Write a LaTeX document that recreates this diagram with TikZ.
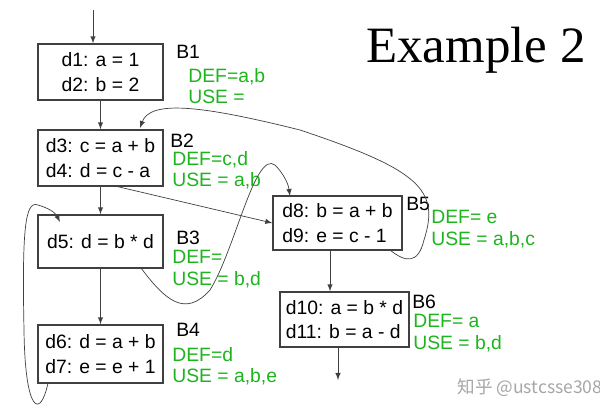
\documentclass[tikz,border=0pt]{standalone}
\usepackage{fontspec}
\setmainfont{Liberation Sans}
\newfontfamily\exfont{Liberation Serif}
\newfontfamily\cjk{Noto Sans CJK SC}
\usepackage{tikz}
\usetikzlibrary{positioning}
\definecolor{defgreen}{RGB}{30,180,30}
\tikzset{
  blk/.style={draw,thick,black!75,text=black,minimum width=2.5cm,minimum height=1.12cm,align=left,font=\fontsize{11}{14}\selectfont},
  lbl/.style={anchor=west,inner sep=0pt,font=\fontsize{11}{14}\selectfont},
  du/.style={anchor=west,inner sep=0pt,text=defgreen,align=left,font=\fontsize{11}{12.2}\selectfont},
  flow/.style={-latex,black!75}
}
\begin{document}
\begin{tikzpicture}[x=0.02cm,y=-0.02cm]
\useasboundingbox (0,0) rectangle (600,414);
%blocks
\node[blk] (b1) at (100.5,72) {d1: a = 1\\d2: b = 2};
\node[blk] (b2) at (100.5,158) {d3: c = a + b\\d4: d = c - a};
\node[blk,minimum height=1.06cm] (b3) at (100.5,241.5) {d5: d = b * d};
\node[blk,minimum height=1.16cm] (b4) at (100.5,354) {d6: d = a + b\\d7: e = e + 1};
\node[blk,minimum width=2.58cm,minimum height=1.08cm] (b5) at (337.5,223) {d8: b = a + b\\d9: e = c - 1};
\node[blk,minimum width=2.54cm,minimum height=1.1cm] (b6) at (344.5,319.5) {d10: a = b * d\\d11: b = a - d};
%labels
\node[lbl] at (176,52) {B1};
\node[du] at (188,86) {DEF=a,b\\USE =};
\node[lbl] at (170,141) {B2};
\node[du] at (172,170) {DEF=c,d\\USE = a,b};
\node[lbl] at (176,238) {B3};
\node[du] at (172,269) {DEF=\\USE = b,d};
\node[lbl] at (176,330) {B4};
\node[du] at (172,366) {DEF=d\\USE = a,b,e};
\node[lbl] at (406,204) {B5};
\node[du] at (431,229) {DEF= e\\USE = a,b,c};
\node[lbl] at (412,302) {B6};
\node[du] at (413,333) {DEF= a\\USE = b,d};
\node[font=\exfont\fontsize{29}{32}\selectfont] (ttl) at (476,50) {Example 2};
\node[text=black!35,font=\cjk\fontsize{10}{12}\selectfont] (wm) at (530,388) {知乎 @ustcsse308};
%edges
\coordinate (in) at (93,10);
\coordinate (out) at (338,380);
\coordinate (s2) at (115,186);
\coordinate (s5) at (330,250);
\coordinate (s6) at (338,347);
\draw[flow] (in) -- (in |- b1.north);
\draw[flow] (b1) -- (b2);
\draw[flow] (b2) -- (b3);
\draw[flow] (b3) -- (b4);
\draw[flow] (s2) -- (b5.west);
\draw[flow] (s5) -- (s5 |- b6.north);
\draw[flow] (s6) -- (out);
%back edges
\draw[flow] (48,383) .. controls (40,420) and (25,412) .. (24,330)
  .. controls (22,230) and (25,200) .. (38,205) .. controls (48,208) and (55,212) .. (60,222);
\draw[flow] (141,268) .. controls (165,300) and (185,318) .. (210,290)
  .. controls (235,250) and (255,150) .. (275,165) .. controls (282,172) and (288,182) .. (290,196);
\draw[flow] (390,250) .. controls (405,262) and (418,265) .. (424,240)
  .. controls (440,190) and (420,170) .. (300,130) .. controls (200,105) and (150,100) .. (140,128);
\end{tikzpicture}
\end{document}
